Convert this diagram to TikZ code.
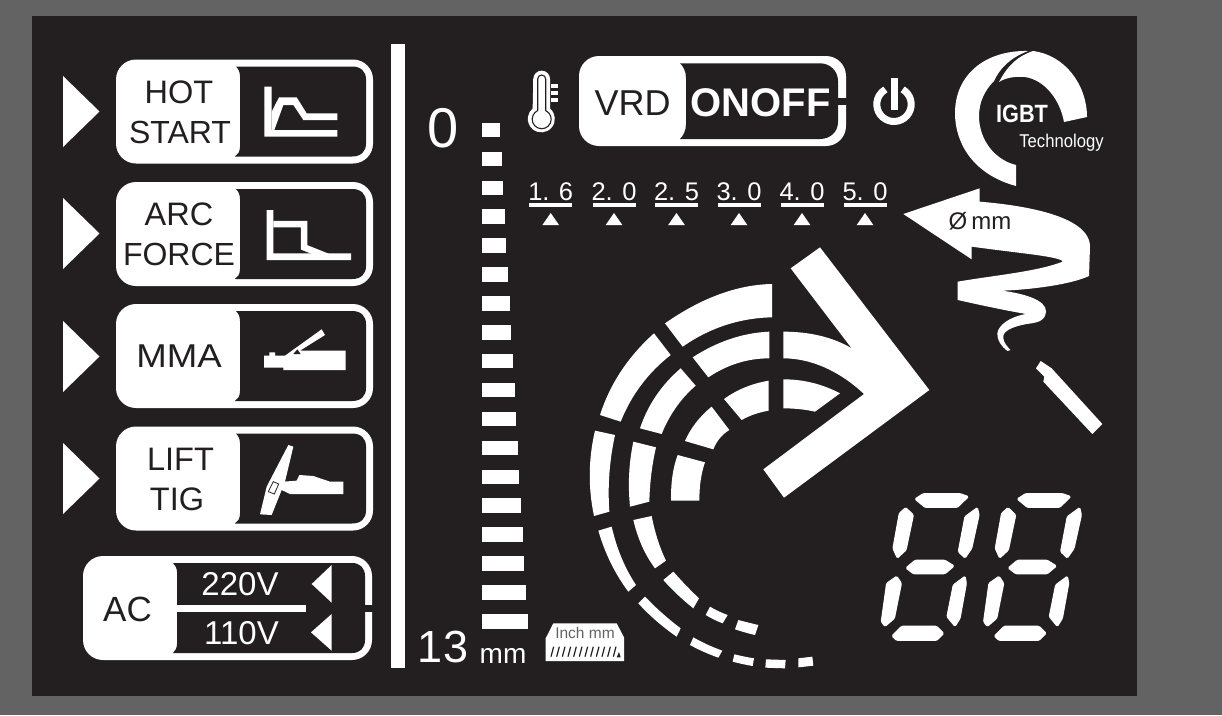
\documentclass[tikz,border=0pt]{standalone}
\usepackage{fontspec}
\usetikzlibrary{calc}
\setmainfont{Liberation Sans}
\definecolor{panel}{HTML}{231F20}
\definecolor{outside}{HTML}{636363}
\newcommand{\fsz}[1]{\fontsize{#1}{#1}\selectfont}
\tikzset{
  lbl/.style={inner sep=0pt,outer sep=0pt,anchor=base,text=panel},
  wlbl/.style={inner sep=0pt,outer sep=0pt,anchor=base,text=white},
  zoomA/.style={shift={(40,40)},x=.33333pt,y=-.33333pt},
  zoomB/.style={shift={(40,290)},x=.33333pt,y=-.33333pt},
  zoomD/.style={shift={(580,240)},x=.33333pt,y=-.33333pt},
  zoomE/.style={shift={(870,200)},x=.33333pt,y=-.33333pt},
  zoomF/.style={shift={(410,550)},x=.33333pt,y=-.33333pt},
  zoomG/.style={shift={(255,80)},x=.33333pt,y=-.33333pt},
  seven/.style={fill=white,draw=white,line width=1.2pt,rounded corners=1.2pt},
}
\newcommand{\btn}[1]{%
  \begin{scope}[shift={(0,#1)}]
    \fill[white,rounded corners=20pt] (116,0) rectangle (373,104);
    \fill[panel] (236,7) -- (352,7) .. controls (361,7) and (366,12) .. (366,20) -- (366,84)
      .. controls (366,92) and (361,97) .. (352,97) -- (235,97)
      .. controls (238,95) and (240,92) .. (240,87) -- (240,17)
      .. controls (240,12) and (238,9) .. (236,7) -- cycle;
  \end{scope}}
\newcommand{\seg}[6]{\fill[white] #1 .. controls ($#1!.667!#2$) and ($#3!.667!#2$) .. #3 -- #4 .. controls ($#4!.667!#5$) and ($#6!.667!#5$) .. #6 -- cycle;}
\newcommand{\size}[3]{%
  \node[wlbl] (#3) at (#1,200) {\fsz{25.5}#2};
  \fill[white] (#1-21.5,202.8) rectangle (#1+21.5,206.8);
  \fill[white] (#1-8.3,225) -- (#1+8.3,225) -- (#1,213) -- cycle;}
\newcommand{\digit}[1]{%
  \begin{scope}[shift={(#1,0)}]
    \fill[seven] (135,897) -- (160,881) -- (270,881) -- (295,890) -- (262,922) -- (165,922) -- cycle;
    \fill[seven] (107,923) -- (130,945) -- (108,1050) -- (82,1074) -- (69,1045) -- (88,940) -- cycle;
    \fill[seven] (322,923) -- (327,945) -- (305,1045) -- (285,1074) -- (265,1055) -- (285,950) -- cycle;
    \fill[seven] (108,1104) -- (135,1081) -- (225,1081) -- (252,1098) -- (225,1121) -- (130,1121) -- cycle;
    \fill[seven] (80,1129) -- (94,1150) -- (73,1255) -- (45,1279) -- (34,1265) -- (50,1150) -- cycle;
    \fill[seven] (285,1129) -- (289,1150) -- (270,1255) -- (255,1279) -- (231,1250) -- (250,1155) -- cycle;
    \fill[seven] (66,1308) -- (95,1279) -- (200,1279) -- (221,1300) -- (200,1321) -- (80,1321) -- cycle;
  \end{scope}}
\begin{document}
\begin{tikzpicture}[x=1pt,y=-1pt]
\useasboundingbox (0,0) rectangle (1222,715);
\fill[outside] (0,0) rectangle (1222,715);
\fill[panel] (32,16) rectangle (1137,696);

% ---- selector triangles
\foreach \c in {111.5,233.5,356.5,478.5}
  \fill[white] (63,\c-35.5) -- (99.5,\c) -- (63,\c+35.5) -- cycle;

% ---- mode buttons
\btn{59.5}\btn{182}\btn{304}\btn{426.5}

\node[lbl] (hot) at (179,103) {\fsz{32.5}HOT};
\node[lbl] (start) at (180,143) {\fsz{32}START};
\node[lbl] (arc) at (179,225.5) {\fsz{32.5}ARC};
\node[lbl] (force) at (179,265) {\fsz{32}FORCE};
\node[lbl] (mma) at (179,367.5) {\fsz{33}\scalebox{1.11}[1]{MMA}};
\node[lbl] (lift) at (180.5,470) {\fsz{32.5}LIFT};
\node[lbl] (tig) at (177,510.5) {\fsz{32.5}TIG};

% hot start icon
\begin{scope}[zoomG]
  \fill[white] (28,20) -- (50,20) -- (50,150) -- (247,150) -- (247,170) -- (28,170) -- cycle;
  \fill[white] (50,95) -- (72,52) -- (125,52) -- (155,100) -- (247,100) -- (247,120) -- (145,120) -- (115,75) -- (85,75) -- (58,150) -- (50,150) -- cycle;
\end{scope}
% arc force icon
\begin{scope}[zoomA]
  \fill[white] (680,510) -- (700,510) -- (700,640) -- (933,640) -- (933,660) -- (680,660) -- cycle;
  \draw[white,line width=6.5pt] (700,552) -- (792,552) -- (792,622) -- (862,650);
\end{scope}
% mma icon
\begin{scope}[zoomB]
  \fill[white] (672,197) -- (688,197) -- (688,187) -- (705,187) -- (705,197) -- (735,197)
    -- (845,118) -- (855,135) -- (780,182) -- (917,182) -- (917,240) -- (730,240) -- (730,233) -- (672,233) -- cycle;
  \fill[panel] (760,192) -- (772,178) -- (782,192) -- cycle;
\end{scope}
% lift tig icon
\begin{scope}[zoomB]
  \fill[white] (745,465) -- (760,470) -- (735,575) -- (695,675) -- (660,673) -- (680,590) -- cycle;
  \fill[white] (730,575) -- (770,572) -- (778,555) -- (820,558) -- (870,575) -- (910,575) -- (910,612) -- (750,612) -- (725,600) -- cycle;
  \draw[panel,line width=.8pt] (685,605) -- (700,575) -- (716,582) -- (703,612) -- cycle;
\end{scope}

% ---- AC selector
\fill[white,rounded corners=20pt] (83,556) rectangle (372,660);
\fill[panel] (173,563) -- (352,563) .. controls (360,563) and (365,568) .. (365,576) -- (365,640)
  .. controls (365,648) and (360,653) .. (352,653) -- (173,653)
  .. controls (175,651) and (177,648) .. (177,644) -- (177,572)
  .. controls (177,568) and (175,565) .. (173,563) -- cycle;
\fill[panel] (364,605) rectangle (373,612);
\fill[white] (177,605) rectangle (305.7,612);
\begin{scope}[zoomB]
  \fill[white] (875,825) -- (875,938) -- (815,882) -- cycle;
  \fill[white] (875,972) -- (875,1082) -- (813,1027) -- cycle;
\end{scope}
\node[lbl] (ac) at (127.5,621.5) {\fsz{35}AC};
\node[wlbl] (v220) at (240,595) {\fsz{33}220V};
\node[wlbl] (v110) at (241.5,644) {\fsz{33}110V};

% ---- divider bar
\fill[white] (390.7,44.3) rectangle (405,668);

% ---- ladder
\foreach \i in {0,...,17}
  \fill[white] (482.3,122.7+28.9*\i) rectangle (500+1.62*\i,137.2+28.9*\i);
\node[wlbl] (zero) at (443,147) {\fsz{56}0};
\node[wlbl] (thirteen) at (443,662) {\fsz{45}13};
\node[wlbl] (mmlab) at (503,663) {\fsz{28}mm};

% ---- inch mm plate
\begin{scope}[zoomF]
  \fill[white] (430,220) -- (620,220) -- (642,262) -- (642,333) -- (407,333) -- (407,265) -- cycle;
  \foreach \i in {0,...,11}
    \draw[panel,line width=1.2pt] (423+17*\i,320) -- (431+17*\i,290);
  \fill[panel] (620,322) -- (632,322) -- (627,306) -- cycle;
\end{scope}
\node[lbl,text=panel!70] (inch) at (585,638.5) {\fsz{15.5}Inch mm};

% ---- thermometer
\fill[white] (533.3,79) arc[start angle=180,end angle=360,radius=8.35] -- (550,108.5)
  arc[start angle=-50,end angle=230,radius=13.5] -- cycle;
\fill[white] (533.3,79) -- (550,79) -- (550,110) -- (533.3,110) -- cycle;
\draw[panel,line width=1.1pt] (537.7,110.6) -- (537.7,79) arc[start angle=180,end angle=360,radius=4] -- (545.7,110.6)
  arc[start angle=-65,end angle=245,radius=9.5];
\fill[white] (551,83.5) rectangle (558,88);
\fill[white] (551,90.5) rectangle (558,95);
\fill[white] (551,97.5) rectangle (558,102);

% ---- VRD box
\fill[white,rounded corners=20pt] (579,56) rectangle (846,146);
\fill[panel] (680,63.3) -- (820,63.3) .. controls (830,63.3) and (838,71) .. (838,81) -- (838,122)
  .. controls (838,132) and (830,139) .. (820,139) -- (680,139)
  .. controls (683,136) and (686,131) .. (686,124) -- (686,78)
  .. controls (686,71) and (683,66) .. (680,63.3) -- cycle;
\fill[panel] (837,98.3) rectangle (847,105);
\node[lbl] (vrd) at (632.6,115) {\fsz{36}VRD};
\node[wlbl] (onoff) at (760.7,116.5) {\fsz{40}\bfseries ONOFF};

% ---- power symbol
\draw[white,line width=7pt] (902.6,89.4) arc[start angle=-60,end angle=240,radius=17.2];
\fill[white] (891,78.3) rectangle (898.3,110);

% ---- IGBT logo
\fill[white] (1016,186) .. controls (975,175) and (955,145) .. (955,113)
  .. controls (955,75) and (985,50) .. (1028,51)
  .. controls (1010,58) and (1000,68) .. (994,81)
  .. controls (985,90) and (979,102) .. (979,116)
  .. controls (979,140) and (995,160) .. (1016,165) -- cycle;
\fill[white] (999,82) .. controls (1008,65) and (1018,56) .. (1033,51)
  .. controls (1065,55) and (1087,85) .. (1087,117) -- (1064,122)
  .. controls (1060,100) and (1045,80) .. (1025,77)
  .. controls (1015,76) and (1005,78) .. (999,82) -- cycle;
\node[wlbl] (igbt) at (1022,122) {\fsz{25}\bfseries\scalebox{.87}[1]{IGBT}};
\node[wlbl] (tech) at (1061.5,147) {\fsz{18.5}\scalebox{.9}[1]{Technology}};

% ---- electrode sizes
\size{550.7}{1. 6}{sa}
\size{614}{2. 0}{sb}
\size{676.5}{2. 5}{sc}
\size{739}{3. 0}{sd}
\size{802}{4. 0}{se}
\size{865}{5. 0}{sf}

% ---- wavy arrow and stick
\begin{scope}[zoomE]
  \fill[white] (100,42) -- (329,-35) -- (329,5)
    .. controls (450,15) and (660,45) .. (660,140) -- (657,228)
    .. controls (600,255) and (470,270) .. (395,272)
    .. controls (460,280) and (530,300) .. (528,335)
    .. controls (525,365) and (500,368) .. (470,372)
    .. controls (425,380) and (395,395) .. (400,415)
    .. controls (402,430) and (412,440) .. (422,450) -- (412,453)
    .. controls (395,440) and (380,420) .. (382,400)
    .. controls (385,375) and (420,350) .. (468,342)
    .. controls (400,330) and (330,315) .. (263,300) -- (263,245)
    .. controls (380,225) and (500,215) .. (578,185)
    .. controls (575,170) and (450,160) .. (305,140) -- (305,178) -- cycle;
  \fill[white] (512,483) -- (545,505) -- (697,672) -- (667,702) -- (520,545) -- (523,530) -- (498,505) -- cycle;
\end{scope}
\node[lbl] (dia) at (980,229) {\fsz{24}Ø\,mm};

% ---- big chevron and gauge
\begin{scope}[zoomD]
  \fill[white] (632,85) -- (720,22) -- (1048,450) -- (612,773) -- (550,688) -- (852,462)
    .. controls (775,390) and (690,355) .. (610,355) -- (610,275) .. controls (690,275) and (760,292) .. (815,325) -- cycle;
  % outer ring
  \seg{(255,250)}{(420,135)}{(576,132)}{(576,232)}{(430,235)}{(308,320)}
  \seg{(222,280)}{(105,385)}{(60,525)}{(122,545)}{(170,425)}{(272,345)}
  \seg{(45,572)}{(15,700)}{(42,828)}{(88,815)}{(80,700)}{(105,585)}
  \seg{(55,872)}{(85,975)}{(145,1055)}{(168,1035)}{(118,960)}{(95,860)}
  \seg{(175,1090)}{(225,1145)}{(290,1190)}{(302,1165)}{(245,1122)}{(195,1070)}
  \seg{(330,1215)}{(370,1237)}{(415,1253)}{(427,1232)}{(380,1215)}{(340,1192)}
  \seg{(458,1265)}{(488,1273)}{(518,1278)}{(522,1255)}{(492,1250)}{(463,1243)}
  \fill[white] (556,1283) -- (615,1285) -- (617,1260) -- (558,1258) -- cycle;
  \fill[white] (655,1282) -- (700,1277) -- (697,1250) -- (655,1255) -- cycle;
  % middle ring
  \seg{(338,352)}{(450,280)}{(568,275)}{(568,355)}{(470,355)}{(385,412)}
  \seg{(302,385)}{(215,460)}{(180,565)}{(245,582)}{(280,495)}{(347,437)}
  \seg{(160,605)}{(140,700)}{(150,800)}{(208,785)}{(210,700)}{(228,622)}
  \seg{(160,840)}{(180,925)}{(225,985)}{(258,962)}{(230,905)}{(215,828)}
  \seg{(250,1020)}{(290,1065)}{(340,1105)}{(357,1075)}{(320,1040)}{(280,995)}
  \seg{(377,1125)}{(402,1140)}{(428,1150)}{(443,1125)}{(415,1115)}{(390,1100)}
  \seg{(465,1168)}{(495,1178)}{(525,1185)}{(535,1155)}{(505,1148)}{(475,1140)}
  % inner ring
  \seg{(432,477)}{(490,435)}{(566,422)}{(566,512)}{(520,520)}{(485,540)}
  \seg{(610,418)}{(700,418)}{(780,460)}{(705,515)}{(660,505)}{(610,505)}
  \seg{(395,500)}{(340,545)}{(315,603)}{(400,628)}{(415,590)}{(448,570)}
  \seg{(293,645)}{(272,700)}{(273,782)}{(358,782)}{(358,715)}{(375,667)}
\end{scope}

% ---- seven segment digits
\begin{scope}[zoomE]
  \digit{0}
  \digit{307}
\end{scope}
\end{tikzpicture}
\end{document}
